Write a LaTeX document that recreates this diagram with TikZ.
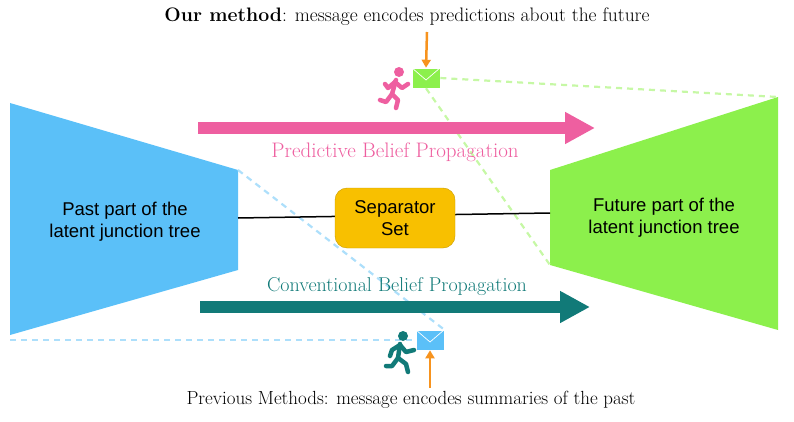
\documentclass[tikz,border=0pt]{standalone}
\usepackage{fontspec}
\newfontfamily\sansf{Liberation Sans}
\usetikzlibrary{arrows.meta,calc}
\definecolor{lb}{HTML}{5BC0F8}
\definecolor{lg}{HTML}{8CF04C}
\definecolor{pk}{HTML}{EE5FA0}
\definecolor{tl}{HTML}{117A78}
\definecolor{sy}{HTML}{F8C000}
\definecolor{og}{HTML}{F7931E}
\tikzset{
 bigarrow/.style={line width=12pt,-{Triangle[length=30pt,width=30pt]}},
 dashln/.style={line width=2.2pt,dash pattern=on 6pt off 5pt},
 env/.style={draw=white,line width=0.6pt,minimum width=28pt,minimum height=20pt,inner sep=0pt},
 runner/.style={line width=4.5pt,line cap=round,line join=round},
 lbl/.style={font=\sansf\fontsize{18.5}{22}\selectfont,align=center,text=black}
}
\begin{document}
\begin{tikzpicture}[x=1pt,y=-1pt]
\useasboundingbox (0,0) rectangle (794,422);
\coordinate (bl1) at (238,170); \coordinate (bl2) at (10,340);
\coordinate (gl1) at (550,265); \coordinate (gl2) at (778,97);
\path[fill=lb] (10,103) -- (238,170) -- (238,270) -- (10,335) -- cycle;
\path[fill=lg] (550,170) -- (778,97) -- (778,330) -- (550,265) -- cycle;
\node[lbl] (past) at (125,222) {Past part of the\\latent junction tree};
\node[lbl] (fut) at (664,218) {Future part of the\\latent junction tree};
\node[env,fill=lg] (e1) at (426,78) {};
\node[env,fill=lb] (e2) at (430,340) {};
\draw[dashln,lb!50] (bl1) -- (e2.north east);
\draw[dashln,lb!50] (bl2) -- (e2.west);
\draw[dashln,lg!50] (e1.east) -- (gl2);
\draw[dashln,lg!50] (e1.south) -- (gl1);
\foreach \e in {e1,e2}{\draw[white,line width=0.7pt] (\e.north west) -- ($(\e.center)+(0,2)$) -- (\e.north east);}
\draw[line width=1.5pt] (238,218) coordinate (a) -- (550,213) coordinate (b);
\node[fill=sy,draw=sy!80!black,rounded corners=12pt,minimum width=120pt,minimum height=60pt,lbl] (sep) at (395,218) {Separator\\Set};
\draw[bigarrow,pk] (198,128) coordinate (p1) -- (595,128) coordinate (p2);
\draw[bigarrow,tl] (200,307) coordinate (t1) -- (590,307) coordinate (t2);
\node[text=pk,font=\fontsize{21}{24}\selectfont] (pbp) at (395,152) {Predictive Belief Propagation};
\node[text=tl,font=\fontsize{20}{24}\selectfont] (cbp) at (397,287) {Conventional Belief Propagation};
\node[font=\fontsize{19.5}{22}\selectfont] (top) at (407,17) {\textbf{Our method}: message encodes predictions about the future};
\node[font=\fontsize{19}{22}\selectfont] (bot) at (411,400) {Previous Methods: message encodes summaries of the past};
\coordinate (oa1) at (427,32); \coordinate (oa2) at (430,388);
\draw[og,line width=2.5pt,-{Triangle[length=8pt,width=9pt]}] (oa1) -- (e1.north);
\draw[og,line width=2.5pt,-{Triangle[length=8pt,width=9pt]}] (oa2) -- (e2.south);
\begin{scope}[shift={(394,88)}]
\fill[pk] (5,-16) circle (5);
\draw[runner,pk] (2,-8) -- (-2,6) -- (4,12) -- (2,20); \draw[runner,pk] (-2,6) -- (-8,14) -- (-14,12);
\draw[runner,pk] (1,-6) -- (-6,0) -- (-9,-4); \draw[runner,pk] (1,-6) -- (8,0) -- (14,-4);
\end{scope}
\begin{scope}[shift={(400,352)}]
\fill[tl] (3,-16) circle (5);
\draw[runner,tl] (0,-8) -- (-2,6) -- (6,12) -- (8,20); \draw[runner,tl] (-2,6) -- (-8,14) -- (-14,14);
\draw[runner,tl] (0,-7) -- (-8,-2) -- (-10,4); \draw[runner,tl] (0,-7) -- (6,0) -- (14,-2);
\end{scope}
\end{tikzpicture}
\end{document}
